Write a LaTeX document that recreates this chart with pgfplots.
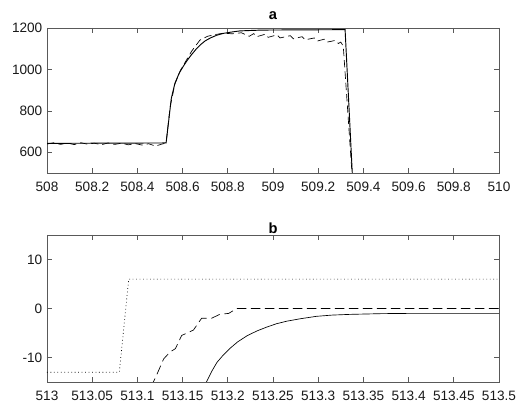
\documentclass[border=0pt]{standalone}
\usepackage{fontspec}
\setmainfont{Liberation Sans}
\usepackage{pgfplots}
\pgfplotsset{compat=1.18}
\begin{document}
\begin{tikzpicture}
\useasboundingbox (0pt,0pt) rectangle (394.5pt,-306.75pt);
\pgfplotsset{
  every axis/.append style={
    scale only axis,
    axis line style={black!65, line width=0.5pt},
    tick style={black!65, line width=0.5pt},
    tick align=inside,
    major tick length=3.5pt,
    tick label style={font=\fontsize{10.2}{12}\selectfont, black!90},
    xticklabel style={yshift=-3.5pt},
    title style={font=\fontsize{11}{13}\selectfont\bfseries, yshift=-3pt},
    clip=true,
  }
}
\begin{axis}[
  at={(35.25pt,-21pt)}, anchor=north west,
  width=339pt, height=108.75pt,
  xmin=508, xmax=510, ymin=500, ymax=1200,
  xtick={508,508.2,508.4,508.6,508.8,509,509.2,509.4,509.6,509.8,510},
  xticklabels={508,508.2,508.4,508.6,508.8,509,509.2,509.4,509.6,509.8,510},
  ytick={600,800,1000,1200},
  yticklabels={600,800,1000,1200},
  title={a},
]
\addplot[black, line width=0.7pt] coordinates {
(508.000,643) (508.527,645) (508.550,860) (508.566,933) (508.585,982)
(508.603,1015) (508.620,1043) (508.640,1072) (508.660,1098) (508.680,1120)
(508.700,1138) (508.725,1153) (508.751,1165) (508.780,1174) (508.820,1181)
(508.854,1186) (508.950,1190) (509.319,1192) (509.360,300)
};
\addplot[black, line width=0.5pt, dash pattern=on 5.5pt off 3pt] coordinates {
(508.000,640) (508.030,646) (508.060,638) (508.090,645) (508.120,637)
(508.150,646) (508.180,639) (508.210,644) (508.240,636) (508.270,645)
(508.300,638) (508.330,644) (508.360,636) (508.390,642) (508.420,635)
(508.450,641) (508.480,630) (508.510,640) (508.527,645)
(508.545,820) (508.566,930) (508.590,995) (508.610,1032) (508.640,1088)
(508.677,1142) (508.710,1160) (508.743,1168) (508.780,1175) (508.820,1172)
(508.860,1177) (508.895,1160)
(508.915,1173) (508.928,1158) (508.966,1170) (508.979,1155)
(509.018,1167) (509.031,1152) (509.077,1163) (509.090,1148)
(509.129,1158) (509.142,1143) (509.183,1152) (509.196,1137)
(509.227,1146) (509.240,1132) (509.276,1140) (509.289,1125)
(509.300,1132) (509.311,1112) (509.362,300)
};
\end{axis}
\begin{axis}[
  at={(35.25pt,-176.25pt)}, anchor=north west,
  width=339pt, height=110.25pt,
  xmin=513, xmax=513.5, ymin=-15, ymax=15,
  xtick={513,513.05,513.1,513.15,513.2,513.25,513.3,513.35,513.4,513.45,513.5},
  xticklabels={513,513.05,513.1,513.15,513.2,513.25,513.3,513.35,513.4,513.45,513.5},
  ytick={-10,0,10},
  yticklabels={-10,0,10},
  title={b},
  title style={yshift=-5.5pt},
]
\addplot[black, line width=0.5pt, dash pattern=on 0.6pt off 2pt] coordinates {
(513.000,-13) (513.080,-13) (513.0904,6) (513.500,6)
};
\addplot[black, line width=0.5pt, dash pattern=on 7pt off 3.5pt] coordinates {
(513.115,-16) (513.121,-13.7) (513.129,-10.3) (513.136,-8.9) (513.142,-8.2)
(513.149,-5.5) (513.155,-5.0) (513.162,-4.4) (513.171,-2.0) (513.182,-2.0)
(513.191,-1.2) (513.201,-1.0) (513.210,0) (513.500,0)
};
\addplot[black, line width=0.5pt] coordinates {
(513.175,-16) (513.1766,-14.9) (513.182,-12.9) (513.188,-11.0) (513.195,-9.5)
(513.202,-8.2) (513.211,-6.8) (513.221,-5.6) (513.232,-4.6) (513.243,-3.8)
(513.254,-3.1) (513.265,-2.6) (513.280,-2.1) (513.298,-1.6) (513.315,-1.35)
(513.335,-1.2) (513.370,-1.05) (513.400,-1.0) (513.500,-1.0)
};
\end{axis}
\end{tikzpicture}
\end{document}
